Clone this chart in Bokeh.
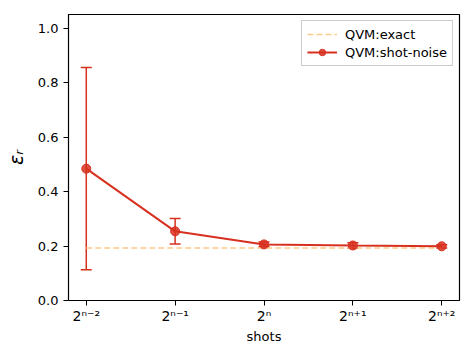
from bokeh.plotting import figure
from bokeh.models import (FixedTicker, ColumnDataSource, Whisker, TeeHead, Legend, LegendItem, Range1d)
from bokeh.embed import file_html
from bokeh.resources import INLINE

shots_labels = ["2ⁿ⁻²", "2ⁿ⁻¹", "2ⁿ", "2ⁿ⁺¹", "2ⁿ⁺²"]
x_idx = [0, 1, 2, 3, 4]
noise_mean = [0.484, 0.254, 0.206, 0.202, 0.199]
noise_err = [0.371, 0.047, 0.009, 0.010, 0.006]
exact_val = [0.193, 0.193, 0.193, 0.193, 0.193]

RED = "#d7301f"
ORANGE = "#fdcc8a"
FONT = "DejaVu Sans"

p = figure(width=474, height=355, output_backend="svg", toolbar_location=None,
           x_range=Range1d(-0.2, 4.2), y_range=Range1d(0, 1.05),
           min_border_left=68, min_border_right=15, min_border_top=14, min_border_bottom=55)
p.background_fill_color = "white"
p.border_fill_color = "white"
p.grid.visible = False
p.outline_line_color = "black"
p.outline_line_width = 1.2

p.xaxis.ticker = FixedTicker(ticks=x_idx)
p.xaxis.major_label_overrides = {i: s for i, s in zip(x_idx, shots_labels)}
p.yaxis.ticker = FixedTicker(ticks=[0.0, 0.2, 0.4, 0.6, 0.8, 1.0])
p.yaxis.major_label_overrides = {0.0: "0.0", 0.2: "0.2", 0.4: "0.4", 0.6: "0.6", 0.8: "0.8", 1.0: "1.0"}
for ax in (p.xaxis, p.yaxis):
    ax.major_label_text_font = FONT
    ax.major_label_text_font_size = "13px"
    ax.major_label_text_color = "black"
    ax.axis_label_text_font = FONT
    ax.axis_label_text_font_size = "13px"
    ax.axis_label_text_font_style = "normal"
    ax.axis_label_text_color = "black"
    ax.axis_line_color = "black"
    ax.major_tick_line_color = "black"
    ax.major_tick_out = 5
    ax.major_tick_in = 0
    ax.minor_tick_line_color = None
p.xaxis.major_label_text_font_size = "14px"
p.xaxis.major_label_standoff = 2
p.xaxis.axis_label = "shots"
p.xaxis.axis_label_standoff = 2
p.yaxis.axis_label = "εᵣ"
p.yaxis.axis_label_text_font_style = "italic"
p.yaxis.axis_label_text_font_size = "19px"
p.yaxis.axis_label_standoff = 8

src = ColumnDataSource(dict(x=x_idx, y=noise_mean,
                            lo=[m - e for m, e in zip(noise_mean, noise_err)],
                            hi=[m + e for m, e in zip(noise_mean, noise_err)],
                            ex=exact_val))

exact = p.line("x", "ex", source=src, line_color=ORANGE, line_width=1.6, line_dash="6 3")
w = Whisker(base="x", lower="lo", upper="hi", source=src, line_color=RED, line_width=1.5,
            upper_head=TeeHead(size=11, line_color=RED, line_width=1.5),
            lower_head=TeeHead(size=11, line_color=RED, line_width=1.5))
p.add_layout(w)
ln = p.line("x", "y", source=src, line_color=RED, line_width=2)
sc = p.scatter("x", "y", source=src, size=9, fill_color=RED, line_color=RED, fill_alpha=0.85)

legend = Legend(items=[LegendItem(label="QVM:exact", renderers=[exact]),
                       LegendItem(label="QVM:shot-noise", renderers=[ln, sc])],
                location="top_right")
legend.label_text_font = FONT
legend.label_text_font_size = "13px"
legend.label_text_color = "black"
legend.border_line_color = "#cccccc"
legend.border_line_alpha = 1
legend.background_fill_alpha = 0.8
legend.margin = 6
legend.padding = 5
legend.spacing = 2
legend.label_height = 16
legend.glyph_height = 16
legend.glyph_width = 30
legend.label_standoff = 8
p.add_layout(legend)

open("out.html", "w").write(file_html(p, INLINE))
